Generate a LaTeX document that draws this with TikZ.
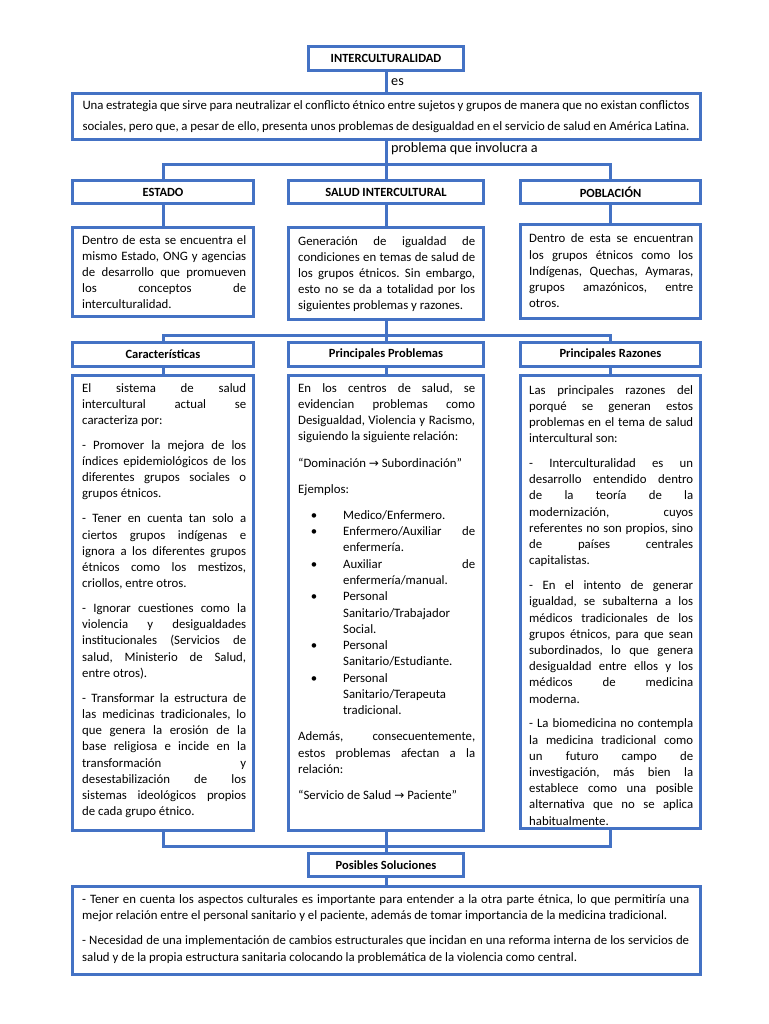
\documentclass[tikz,border=0pt]{standalone}
\usepackage{fontspec}
\setmainfont{Carlito}
\newfontfamily\arrowfont{DejaVu Sans}
\definecolor{bord}{RGB}{68,114,196}
\setlength{\parindent}{0pt}
\tolerance=10000
\hbadness=10000
\hyphenpenalty=10000
\exhyphenpenalty=10000
\frenchspacing
\newcommand{\myarr}{{\arrowfont\fontsize{12}{10}\selectfont →}}
\newcommand{\mygap}{\par\vskip 8.7pt\relax}
\newcommand{\mygapb}{\par\vskip 9.8pt\relax}
\newcommand{\itm}{\noindent\llap{•\hspace{26pt}}}
\tikzset{
  box/.style={draw=bord, line width=3pt, fill=white, rectangle, inner sep=0pt},
  conn/.style={draw=bord, line width=3pt},
  hdr/.style={font=\bfseries\fontsize{12.5}{13}\selectfont},
  txt/.style={anchor=base west, inner sep=0pt, align=justify, font=\fontsize{12.8}{16.2}\selectfont},
  lbl/.style={anchor=west, inner sep=0pt, font=\fontsize{14.2}{15}\selectfont},
}
\begin{document}
\begin{tikzpicture}[x=1pt,y=-1pt]
\useasboundingbox[fill=white] (0,0) rectangle (768,1024);

% top
\node[box,hdr,minimum width=155,minimum height=24] (inter) at (386,58.5) {INTERCULTURALIDAD};
\node[box,minimum width=628,minimum height=46] (topbox) at (386,116.5) {};
\node[inner sep=0pt, text width=607, align=justify, font=\fontsize{12.8}{21}\selectfont] (topT) at (386,117)
 {\parfillskip=0pt Una estrategia que sirve para neutralizar el conflicto étnico entre sujetos y grupos de manera que no existan conflictos\linebreak sociales, pero que, a pesar de ello, presenta unos problemas de desigualdad en el servicio de salud en América Latina.\par};
\node[lbl] (es) at (391,82) {es};
\node[lbl] (invol) at (391,149) {problema que involucra a};

% row 1 headers
\node[box,hdr,minimum width=181,minimum height=23.5] (estado) at (163,192.25) {ESTADO};
\node[box,hdr,minimum width=195,minimum height=23.5] (salud) at (386,192.25) {SALUD INTERCULTURAL};
\node[box,hdr,minimum width=180,minimum height=23.5] (pobla) at (610.5,192.25) {POBLACIÓN};

% row 1 descriptions
\node[box,minimum width=181,minimum height=89] (estadoD) at (163,272) {};
\node[box,minimum width=195,minimum height=92] (saludD) at (386,273.5) {};
\node[box,minimum width=180,minimum height=94] (poblaD) at (610.5,271.5) {};

\node[txt,text width=164] (estadoT) at (82,244)
 {Dentro de esta se encuentra el\linebreak mismo Estado, ONG y agencias\linebreak de desarrollo que promueven\linebreak los conceptos de\linebreak interculturalidad.};
\node[txt,text width=177] (saludT) at (298,245)
 {Generación de igualdad de\linebreak condiciones en temas de salud de\linebreak los grupos étnicos. Sin embargo,\linebreak esto no se da a totalidad por los\linebreak siguientes problemas y razones.};
\node[txt,text width=164] (poblaT) at (529,243)
 {Dentro de esta se encuentran\linebreak los grupos étnicos como los\linebreak Indígenas, Quechas, Aymaras,\linebreak grupos amazónicos, entre\linebreak otros.};

% row 2 headers
\node[box,hdr,minimum width=181,minimum height=23.5] (car) at (163,354.25) {Características};
\node[box,hdr,minimum width=195,minimum height=23.5] (prob) at (386,354.25) {Principales Problemas};
\node[box,hdr,minimum width=180,minimum height=23.5] (raz) at (610.5,354.25) {Principales Razones};

% row 2 descriptions
\node[box,minimum width=181,minimum height=455] (carD) at (163,603) {};
\node[box,minimum width=195,minimum height=455] (probD) at (386,603) {};
\node[box,minimum width=180,minimum height=453] (razD) at (610.5,602) {};

\node[txt,text width=164] (carT) at (82,392)
 {El sistema de salud\linebreak intercultural actual se\linebreak caracteriza por:\mygap
 - Promover la mejora de los\linebreak índices epidemiológicos de los\linebreak diferentes grupos sociales o\linebreak grupos étnicos.\mygap
 - Tener en cuenta tan solo a\linebreak ciertos grupos indígenas e\linebreak ignora a los diferentes grupos\linebreak étnicos como los mestizos,\linebreak criollos, entre otros.\mygap
 - Ignorar cuestiones como la\linebreak violencia y desigualdades\linebreak institucionales (Servicios de\linebreak salud, Ministerio de Salud,\linebreak entre otros).\mygap
 - Transformar la estructura de\linebreak las medicinas tradicionales, lo\linebreak que genera la erosión de la\linebreak base religiosa e incide en la\linebreak transformación y\linebreak desestabilización de los\linebreak sistemas ideológicos propios\linebreak de cada grupo étnico.};

\node[txt,text width=177,font=\fontsize{12.8}{16.3}\selectfont] (probT) at (298,392)
 {En los centros de salud, se\linebreak evidencian problemas como\linebreak Desigualdad, Violencia y Racismo,\linebreak siguiendo la siguiente relación:\mygapb
 “Dominación \myarr{} Subordinación”\mygapb
 Ejemplos:\mygapb
 {\leftskip=45pt
 \itm Medico/Enfermero.\par
 \itm Enfermero/Auxiliar de\linebreak enfermería.\par
 \itm Auxiliar de\linebreak enfermería/manual.\par
 \itm Personal\linebreak Sanitario/Trabajador\linebreak Social.\par
 \itm Personal\linebreak Sanitario/Estudiante.\par
 \itm Personal\linebreak Sanitario/Terapeuta\linebreak tradicional.\par}
 \vskip 9.8pt
 Además, consecuentemente,\linebreak estos problemas afectan a la\linebreak relación:\mygapb
 “Servicio de Salud \myarr{} Paciente”};

\node[txt,text width=164] (razT) at (529,394)
 {Las principales razones del\linebreak porqué se generan estos\linebreak problemas en el tema de salud\linebreak intercultural son:\mygap
 - Interculturalidad es un\linebreak desarrollo entendido dentro\linebreak de la teoría de la\linebreak modernización, cuyos\linebreak referentes no son propios, sino\linebreak de países centrales\linebreak capitalistas.\mygap
 - En el intento de generar\linebreak igualdad, se subalterna a los\linebreak médicos tradicionales de los\linebreak grupos étnicos, para que sean\linebreak subordinados, lo que genera\linebreak desigualdad entre ellos y los\linebreak médicos de medicina\linebreak moderna.\mygap
 - La biomedicina no contempla\linebreak la medicina tradicional como\linebreak un futuro campo de\linebreak investigación, más bien la\linebreak establece como una posible\linebreak alternativa que no se aplica\linebreak habitualmente.};

% bottom
\node[box,hdr,minimum width=155,minimum height=23] (sol) at (386,865) {Posibles Soluciones};
\node[box,minimum width=628,minimum height=88] (solD) at (386,930.5) {};
\node[txt,text width=607,font=\fontsize{12.8}{16.5}\selectfont] (solT) at (82,903)
 {- Tener en cuenta los aspectos culturales es importante para entender a la otra parte étnica, lo que permitiría una\linebreak mejor relación entre el personal sanitario y el paciente, además de tomar importancia de la medicina tradicional.\mygap
 - Necesidad de una implementación de cambios estructurales que incidan en una reforma interna de los servicios de\linebreak salud y de la propia estructura sanitaria colocando la problemática de la violencia como central.};

% connectors
\coordinate (f1) at (386,165);
\coordinate (f2) at (386,335);
\coordinate (f3) at (386,846);
\draw[conn] (inter.south) -- (topbox.north);
\draw[conn] (topbox.south) -- (salud.north);
\draw[conn] (estado.north) |- (f1) -| (pobla.north);
\draw[conn] (estado.south) -- (estadoD.north);
\draw[conn] (salud.south) -- (saludD.north);
\draw[conn] (pobla.south) -- (poblaD.north);
\draw[conn] (saludD.south) -- (f2);
\draw[conn] (car.north) |- (f2) -| (raz.north);
\draw[conn] (f2) -- (prob.north);
\draw[conn] (car.south) -- (carD.north);
\draw[conn] (prob.south) -- (probD.north);
\draw[conn] (raz.south) -- (razD.north);
\draw[conn] (carD.south) |- (f3) -| (razD.south);
\draw[conn] (probD.south) -- (sol.north);
\draw[conn] (sol.south) -- (solD.north);
\end{tikzpicture}
\end{document}
